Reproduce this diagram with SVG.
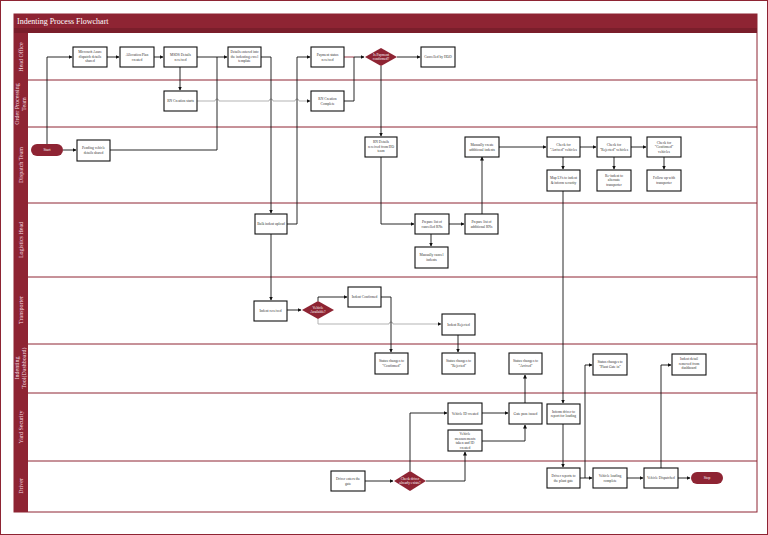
<svg xmlns="http://www.w3.org/2000/svg" width="768" height="535" viewBox="0 0 768 535">
<style>
.n rect{fill:#fff;stroke:#111;stroke-width:1.1}
.t{font-family:"Liberation Serif",serif;font-size:3.6px;fill:#333;text-anchor:middle}
.w{font-family:"Liberation Serif",serif;font-size:3.6px;fill:#fff;text-anchor:middle}
.lane{font-family:"Liberation Serif",serif;font-size:6px;fill:#f3dde0;text-anchor:middle}
.c path{fill:none;stroke:#111;stroke-width:0.9}
.c path.g{stroke:#aaa}
.c path.r{stroke:#8e2433}
.d{fill:#8e2433}
.sep{stroke:#8e2433;stroke-width:1}
</style>
<defs><marker id="a" markerWidth="4" markerHeight="4" refX="3.5" refY="2" orient="auto" markerUnits="userSpaceOnUse"><path d="M0,0L4,2L0,4z" fill="#111"/></marker></defs>
<rect x="0.5" y="0.5" width="767" height="534" fill="#fff" stroke="#8e2433"/>
<g id="frame">
<rect x="14" y="14" width="743" height="498" fill="#fff" stroke="#8e2433"/>
<rect x="14" y="14" width="743" height="14" fill="#8e2433"/>
<rect x="14" y="28" width="743" height="5" fill="#7a1e2b"/>
<rect x="14" y="33" width="14" height="479" fill="#8e2433"/>
<text x="17" y="24" font-family="Liberation Serif,serif" font-size="8" fill="#fff">Indenting Process Flowchart</text>
<line class="sep" x1="14" y1="80" x2="757" y2="80"/>
<line class="sep" x1="14" y1="127" x2="757" y2="127"/>
<line class="sep" x1="14" y1="203" x2="757" y2="203"/>
<line class="sep" x1="14" y1="277" x2="757" y2="277"/>
<line class="sep" x1="14" y1="344" x2="757" y2="344"/>
<line class="sep" x1="14" y1="393" x2="757" y2="393"/>
<line class="sep" x1="14" y1="461" x2="757" y2="461"/>
<text class="lane" transform="translate(23,57) rotate(-90)">Head Office</text>
<text class="lane" transform="translate(19,104) rotate(-90)">Order Processing</text>
<text class="lane" transform="translate(26,104) rotate(-90)">Team</text>
<text class="lane" transform="translate(23,165) rotate(-90)">Dispatch Team</text>
<text class="lane" transform="translate(23,240) rotate(-90)">Logistics Head</text>
<text class="lane" transform="translate(23,310) rotate(-90)">Transporter</text>
<text class="lane" transform="translate(19,368) rotate(-90)">Indenting</text>
<text class="lane" transform="translate(26,368) rotate(-90)">Tool(Dashboard)</text>
<text class="lane" transform="translate(23,427) rotate(-90)">Yard Security</text>
<text class="lane" transform="translate(23,486) rotate(-90)">Driver</text>
</g>
<g class="c">
<path d="M47,144V57H72" marker-end="url(#a)"/>
<path d="M107,57H119" marker-end="url(#a)"/>
<path d="M154,57H163" marker-end="url(#a)"/>
<path d="M197,57H227" marker-end="url(#a)"/>
<path d="M180,67V90" marker-end="url(#a)"/>
<path class="g" d="M197,101H215a2,2 0 0 1 4,0H269a2,2 0 0 1 4,0H295a2,2 0 0 1 4,0H310" marker-end="url(#a)"/>
<path d="M63,150H76" marker-end="url(#a)"/>
<path d="M110,150H217V57"/>
<path d="M261,57H271V213" marker-end="url(#a)"/>
<path d="M287,224H297V57H310" marker-end="url(#a)"/>
<path class="r" d="M344,57H354"/>
<path d="M354,57H364" marker-end="url(#a)"/>
<path d="M344,101H354V57"/>
<path d="M397,57H420" marker-end="url(#a)"/>
<path d="M381,66V136" marker-end="url(#a)"/>
<path d="M381,157V224H414" marker-end="url(#a)"/>
<path d="M449,224H464" marker-end="url(#a)"/>
<path d="M431,234V246" marker-end="url(#a)"/>
<path d="M482,214V157" marker-end="url(#a)"/>
<path d="M499,147H546" marker-end="url(#a)"/>
<path d="M580,147H596" marker-end="url(#a)"/>
<path d="M631,147H646" marker-end="url(#a)"/>
<path d="M563,157V169" marker-end="url(#a)"/>
<path d="M614,157V169" marker-end="url(#a)"/>
<path d="M664,157V169" marker-end="url(#a)"/>
<path d="M271,234V300" marker-end="url(#a)"/>
<path d="M287,310H301" marker-end="url(#a)"/>
<path d="M318,301V297H347" marker-end="url(#a)"/>
<path class="g" d="M318,319V324H389a2,2 0 0 1 4,0H441" marker-end="url(#a)"/>
<path d="M381,297H391V352" marker-end="url(#a)"/>
<path d="M458,335V352" marker-end="url(#a)"/>
<path d="M563,191V403" marker-end="url(#a)"/>
<path d="M563,424V467" marker-end="url(#a)"/>
<path d="M365,481H393" marker-end="url(#a)"/>
<path d="M410,471V413H447" marker-end="url(#a)"/>
<path d="M426,481H465V452" marker-end="url(#a)"/>
<path d="M482,413H508" marker-end="url(#a)"/>
<path d="M482,441H525V425" marker-end="url(#a)"/>
<path d="M525,403V375" marker-end="url(#a)"/>
<path d="M580,478H592" marker-end="url(#a)"/>
<path d="M585,478V365H592" marker-end="url(#a)"/>
<path d="M627,478H643" marker-end="url(#a)"/>
<path d="M678,478H690" marker-end="url(#a)"/>
<path d="M661,468V365H671" marker-end="url(#a)"/>
</g>
<g id="start"><rect x="31" y="144" width="32" height="12" rx="6" class="d"/><text class="w" x="47" y="151.3">Start</text></g>
<g id="stop"><rect x="691" y="472" width="32" height="12" rx="6" class="d"/><text class="w" x="707" y="479.3">Stop</text></g>
<g id="payDec"><path class="d" d="M381,48L397,57L381,66L365,57z"/><text class="w" x="381" y="56">Is Payment</text><text class="w" x="381" y="60">confirmed?</text></g>
<g id="vehDec"><path class="d" d="M318,301L334,310L318,319L302,310z"/><text class="w" x="318" y="309">Vehicle</text><text class="w" x="318" y="313">Available?</text></g>
<g id="drvDec"><path class="d" d="M410,471L426,481L410,491L394,481z"/><text class="w" x="410" y="480">Check driver</text><text class="w" x="410" y="484">already exists?</text></g>
<g class="n" id="n1"><rect x="73" y="47" width="34" height="20"/><text class="t" x="90" y="53">Microsoft Azure</text><text class="t" x="90" y="57.5">dispatch details</text><text class="t" x="90" y="62">shared</text></g>
<g class="n" id="n2"><rect x="120" y="47" width="34" height="20"/><text class="t" x="137" y="56">Allocation Plan</text><text class="t" x="137" y="60.5">created</text></g>
<g class="n" id="n3"><rect x="164" y="47" width="33" height="20"/><text class="t" x="180.5" y="56">MSDS Details</text><text class="t" x="180.5" y="60.5">received</text></g>
<g class="n" id="n4"><rect x="228" y="47" width="33" height="20"/><text class="t" x="244.5" y="53">Details entered into</text><text class="t" x="244.5" y="57.5">the indenting excel</text><text class="t" x="244.5" y="62">template</text></g>
<g class="n" id="n5"><rect x="311" y="47" width="33" height="20"/><text class="t" x="327.5" y="56">Payment status</text><text class="t" x="327.5" y="60.5">received</text></g>
<g class="n" id="n6"><rect x="421" y="47" width="34" height="20"/><text class="t" x="438" y="58">Cancelled by HOD</text></g>
<g class="n" id="n7"><rect x="164" y="91" width="33" height="20"/><text class="t" x="180.5" y="102">RN Creation starts</text></g>
<g class="n" id="n8"><rect x="311" y="91" width="33" height="20"/><text class="t" x="327.5" y="100">RN Creation</text><text class="t" x="327.5" y="104.5">Complete</text></g>
<g class="n" id="n9"><rect x="77" y="140" width="33" height="21"/><text class="t" x="93.5" y="149">Pending vehicle</text><text class="t" x="93.5" y="153.5">details shared</text></g>
<g class="n" id="n10"><rect x="365" y="137" width="32" height="20"/><text class="t" x="381" y="143">RN Details</text><text class="t" x="381" y="147.5">received from HO</text><text class="t" x="381" y="152">team</text></g>
<g class="n" id="n11"><rect x="465" y="137" width="34" height="20"/><text class="t" x="482" y="146">Manually create</text><text class="t" x="482" y="150.5">additional indents</text></g>
<g class="n" id="n12"><rect x="547" y="137" width="33" height="20"/><text class="t" x="563.5" y="146">Check for</text><text class="t" x="563.5" y="150.5">"Arrived" vehicles</text></g>
<g class="n" id="n13"><rect x="597" y="137" width="34" height="20"/><text class="t" x="614" y="146">Check for</text><text class="t" x="614" y="150.5">"Rejected" vehicles</text></g>
<g class="n" id="n14"><rect x="647" y="137" width="34" height="20"/><text class="t" x="664" y="143.5">Check for</text><text class="t" x="664" y="148">"Confirmed"</text><text class="t" x="664" y="152.5">vehicles</text></g>
<g class="n" id="n15"><rect x="547" y="170" width="33" height="21"/><text class="t" x="563.5" y="179">Map LVs to indent</text><text class="t" x="563.5" y="183.5">&amp; inform security</text></g>
<g class="n" id="n16"><rect x="597" y="170" width="34" height="21"/><text class="t" x="614" y="176.5">Re-indent to</text><text class="t" x="614" y="181">alternate</text><text class="t" x="614" y="185.5">transporter</text></g>
<g class="n" id="n17"><rect x="647" y="170" width="34" height="21"/><text class="t" x="664" y="179">Follow up with</text><text class="t" x="664" y="183.5">transporter</text></g>
<g class="n" id="n18"><rect x="255" y="214" width="32" height="20"/><text class="t" x="271" y="225">Bulk indent upload</text></g>
<g class="n" id="n19"><rect x="415" y="214" width="34" height="20"/><text class="t" x="432" y="223">Prepare list of</text><text class="t" x="432" y="227.5">cancelled RNs</text></g>
<g class="n" id="n20"><rect x="465" y="214" width="33" height="20"/><text class="t" x="481.5" y="223">Prepare list of</text><text class="t" x="481.5" y="227.5">additional RNs</text></g>
<g class="n" id="n21"><rect x="415" y="247" width="33" height="21"/><text class="t" x="431.5" y="256">Manually cancel</text><text class="t" x="431.5" y="260.5">indents</text></g>
<g class="n" id="n22"><rect x="254" y="301" width="33" height="20"/><text class="t" x="270.5" y="312">Indent received</text></g>
<g class="n" id="n23"><rect x="348" y="287" width="33" height="20"/><text class="t" x="364.5" y="298">Indent Confirmed</text></g>
<g class="n" id="n24"><rect x="442" y="314" width="33" height="21"/><text class="t" x="458.5" y="325.5">Indent Rejected</text></g>
<g class="n" id="n25"><rect x="375" y="353" width="33" height="21"/><text class="t" x="391.5" y="362">Status changes to</text><text class="t" x="391.5" y="366.5">"Confirmed"</text></g>
<g class="n" id="n26"><rect x="442" y="353" width="33" height="21"/><text class="t" x="458.5" y="362">Status changes to</text><text class="t" x="458.5" y="366.5">"Rejected"</text></g>
<g class="n" id="n27"><rect x="509" y="353" width="33" height="21"/><text class="t" x="525.5" y="362">Status changes to</text><text class="t" x="525.5" y="366.5">"Arrived"</text></g>
<g class="n" id="n28"><rect x="593" y="354" width="34" height="21"/><text class="t" x="610" y="363">Status changes to</text><text class="t" x="610" y="367.5">"Plant Gate in"</text></g>
<g class="n" id="n29"><rect x="672" y="354" width="34" height="21"/><text class="t" x="689" y="360">Indent detail</text><text class="t" x="689" y="364.5">removed from</text><text class="t" x="689" y="369">dashboard</text></g>
<g class="n" id="n30"><rect x="448" y="403" width="34" height="21"/><text class="t" x="465" y="414.5">Vehicle ID created</text></g>
<g class="n" id="n31"><rect x="509" y="403" width="33" height="21"/><text class="t" x="525.5" y="414.5">Gate pass issued</text></g>
<g class="n" id="n32"><rect x="547" y="404" width="33" height="20"/><text class="t" x="563.5" y="412.5">Inform driver to</text><text class="t" x="563.5" y="417">report for loading</text></g>
<g class="n" id="n33"><rect x="448" y="430" width="34" height="21"/><text class="t" x="465" y="435">Vehicle</text><text class="t" x="465" y="439.5">measurements</text><text class="t" x="465" y="444">taken and ID</text><text class="t" x="465" y="448.5">created</text></g>
<g class="n" id="n34"><rect x="331" y="471" width="34" height="20"/><text class="t" x="348" y="480">Driver enters the</text><text class="t" x="348" y="484.5">gate</text></g>
<g class="n" id="n35"><rect x="547" y="468" width="33" height="20"/><text class="t" x="563.5" y="477">Driver reports to</text><text class="t" x="563.5" y="481.5">the plant gate</text></g>
<g class="n" id="n36"><rect x="593" y="468" width="34" height="20"/><text class="t" x="610" y="477">Vehicle loading</text><text class="t" x="610" y="481.5">complete</text></g>
<g class="n" id="n37"><rect x="644" y="468" width="34" height="20"/><text class="t" x="661" y="479">Vehicle Dispatched</text></g>
</svg>
